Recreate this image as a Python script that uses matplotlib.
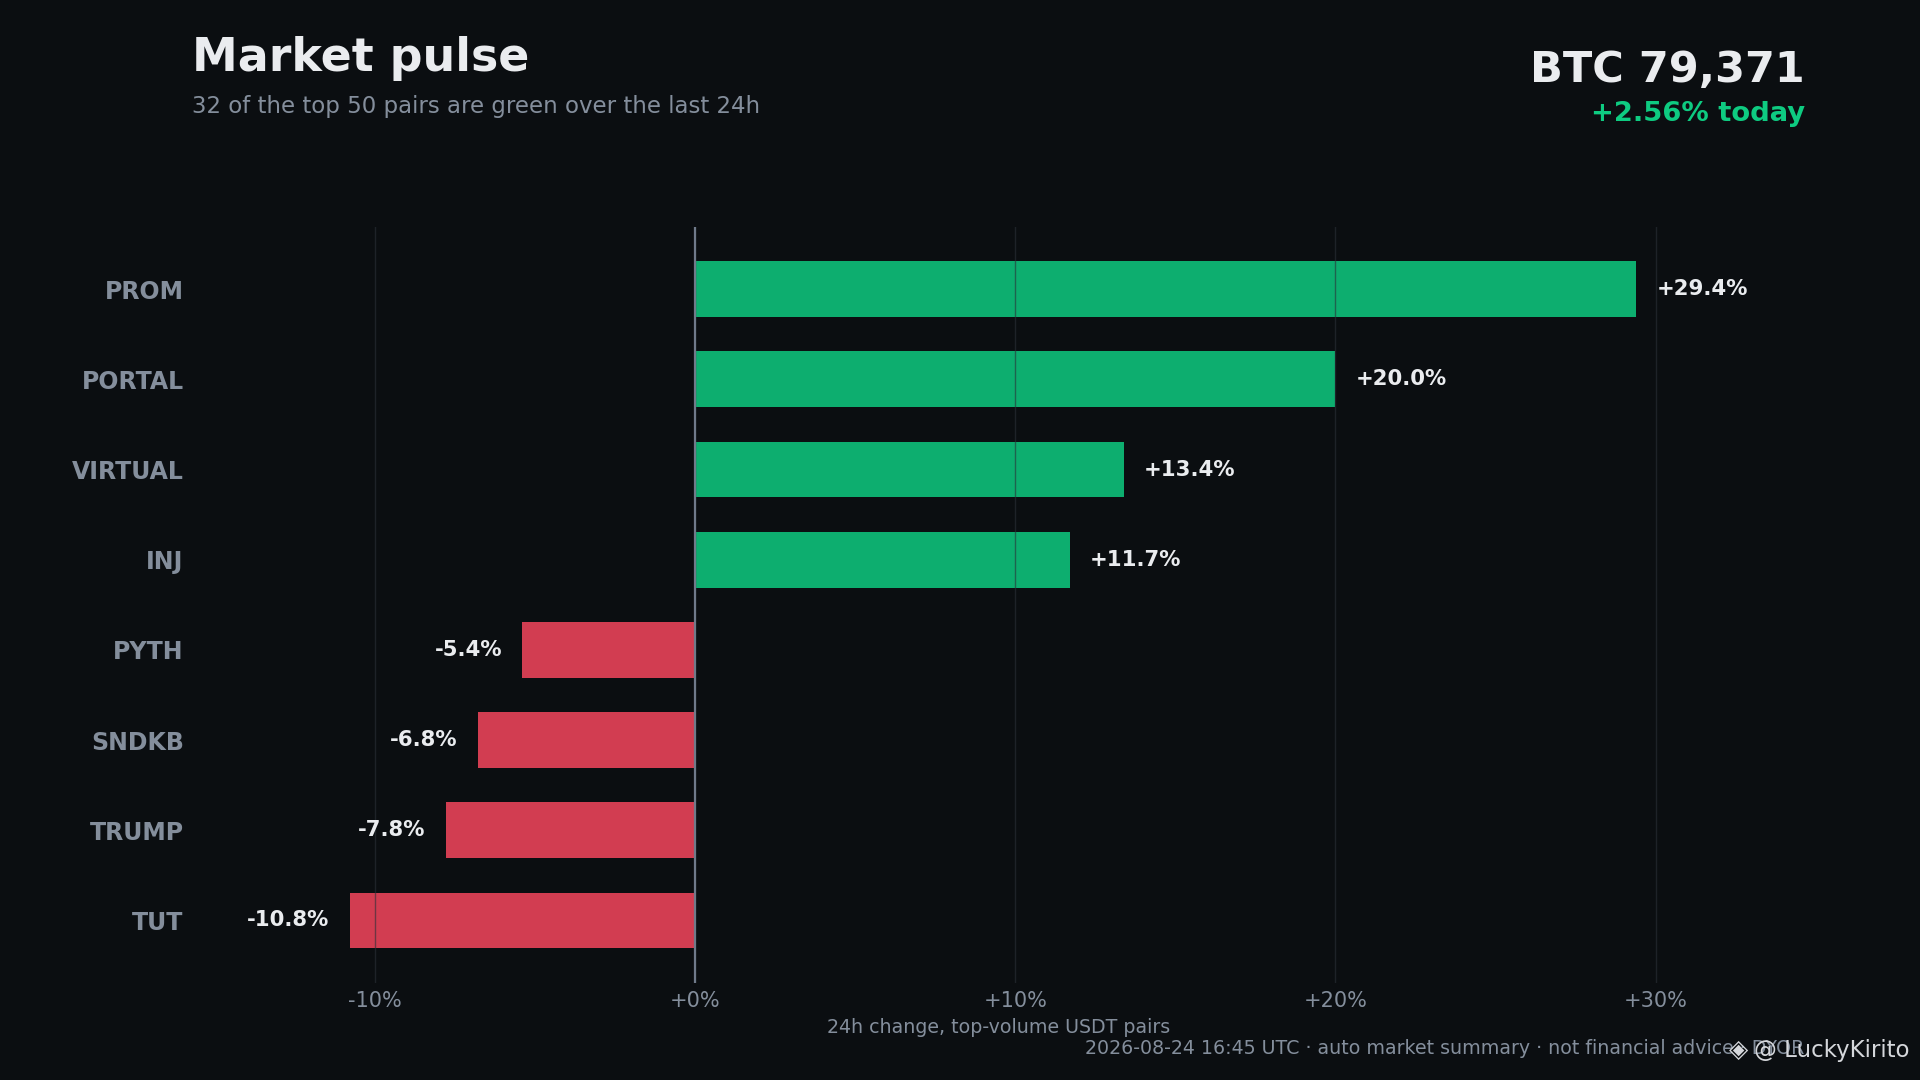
import matplotlib
matplotlib.use("Agg")
import matplotlib.pyplot as plt
from matplotlib.ticker import FuncFormatter

# ---- data ----
symbols = ["PROM", "PORTAL", "VIRTUAL", "INJ", "PYTH", "SNDKB", "TRUMP", "TUT"]
changes = [29.4, 20.0, 13.4, 11.7, -5.4, -6.8, -7.8, -10.8]
x_ticks = [-10, 0, 10, 20, 30]
title = "Market pulse"
subtitle = "32 of the top 50 pairs are green over the last 24h"
btc_price = "BTC 79,371"
btc_change = "+2.56% today"
x_label = "24h change, top-volume USDT pairs"
footer = "2026-08-24 16:45 UTC · auto market summary · not financial advice · DYOR"
watermark = "@ LuckyKirito"

# ---- style ----
BG = "#0B0E11"
GREEN = "#0ECB81"
RED = "#F6465D"
MUTED = "#848E9C"
WHITE = "#EAECEF"
GRID = "#2B3139"

plt.rcParams["font.family"] = ["DejaVu Sans"]

fig = plt.figure(figsize=(19.2, 10.8), dpi=100, facecolor=BG)
ax = fig.add_axes([0.1, 0.09, 0.84, 0.70], facecolor=BG)
ax.set_axisbelow(False)

ypos = list(range(len(symbols)))
colors = [GREEN if v >= 0 else RED for v in changes]
ax.barh(ypos, changes, height=0.62, color=colors, alpha=0.85, zorder=2)
ax.invert_yaxis()

ax.set_xlim(-15.72, 34.66)
ax.set_xticks(x_ticks)
ax.xaxis.set_major_formatter(FuncFormatter(lambda v, p: f"{v:+.0f}%"))
ax.grid(axis="x", color=GRID, linewidth=1.0, alpha=0.6)
ax.grid(axis="y", visible=False)
ax.axvline(0, color="#707A8A", linewidth=1.6, zorder=4)

ax.set_yticks(ypos)
ax.set_yticklabels(symbols)
for lab in ax.get_yticklabels():
    lab.set_fontweight("bold")
ax.tick_params(axis="y", length=0, pad=6, labelsize=17, labelcolor=MUTED)
ax.tick_params(axis="x", length=0, pad=6, labelsize=15, labelcolor=MUTED)
for s in ax.spines.values():
    s.set_visible(False)

for y, v in zip(ypos, changes):
    off = 14.4 if v >= 0 else -14.4
    ax.annotate(f"{v:+.1f}%", xy=(v, y), xytext=(off, 0), textcoords="offset points",
                ha="left" if v >= 0 else "right", va="center",
                fontsize=15.3, fontweight="bold", color=WHITE, zorder=5)

# ---- header ----
fig.text(0.1, 0.9345, title, fontsize=33, fontweight="bold", color=WHITE, va="baseline", ha="left")
fig.text(0.1, 0.8956, subtitle, fontsize=16.5, color=MUTED, va="baseline", ha="left")
fig.text(0.94, 0.9244, btc_price, fontsize=31, fontweight="bold", color=WHITE, va="baseline", ha="right")
fig.text(0.94, 0.8882, btc_change, fontsize=19.7, fontweight="bold", color=GREEN, va="baseline", ha="right")

# ---- footer ----
fig.text(0.52, 0.0435, x_label, fontsize=13.7, color=MUTED, va="baseline", ha="center")
fig.text(0.94, 0.0245, footer, fontsize=13.7, color=MUTED, va="baseline", ha="right")
fig.text(0.9945, 0.0215, watermark, fontsize=16.5, color="#D5D7DB", va="baseline", ha="right")
fig.text(0.9055, 0.0215, "\u25C8", fontsize=18, color="#D5D7DB", va="baseline", ha="center")

fig.savefig("out.png", dpi=100, facecolor=BG)
